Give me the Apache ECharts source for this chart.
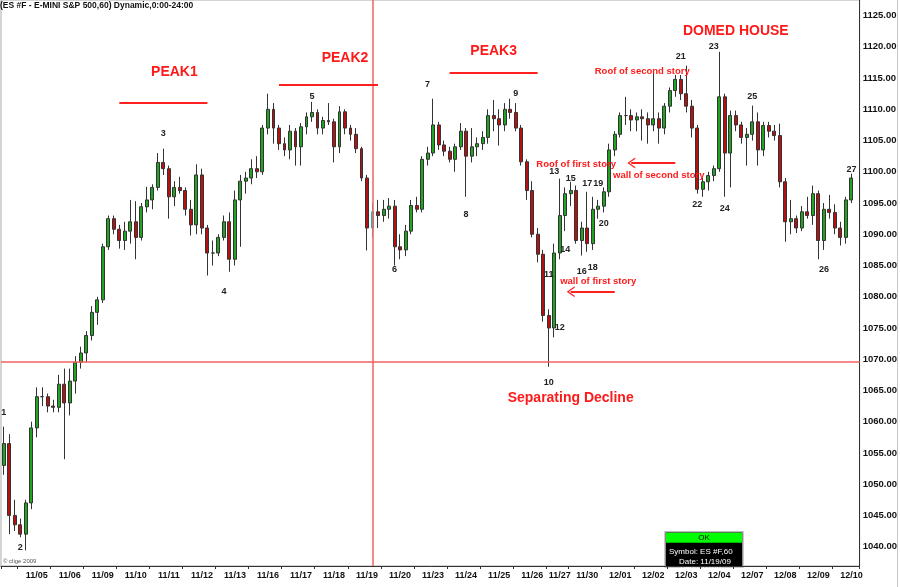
<!DOCTYPE html>
<html><head><meta charset="utf-8">
<script src="https://cdn.jsdelivr.net/npm/echarts@6/dist/echarts.min.js"></script>
<style>html,body{margin:0;padding:0;background:#fff}#c{width:900px;height:587px}</style>
</head><body><div id="c"></div>
<script>
// ---- DATA ----
const dayLabels = ['11/04','11/05','11/06','11/09','11/10','11/11','11/12','11/13','11/16','11/17','11/18','11/19','11/20','11/23','11/24','11/25','11/26','11/27','11/30','12/01','12/02','12/03','12/04','12/07','12/08','12/09','12/10'];
const barsPerDay = [3,6,6,6,6,6,6,6,6,6,6,6,6,6,6,6,6,4,6,6,6,6,6,6,6,6,5];
const hiddenDayLabels = ['11/04'];

const opens = [1053,1056.5,1045,1043.5,1042,1047,1059,1064,1064,1062.5,1062.3,1066,1063,1066.5,1069.5,1071,1073.8,1077.5,1079.5,1088,
1092.5,1090.8,1089,1090.5,1092,1089.5,1094.4,1095.5,1097.5,1101.5,1100.5,1096,1097.5,1097,1094,1091.5,1099.5,1091,1087,1087,
1089.5,1092,1086,1095.5,1098.5,1099,1100.5,1100,1107,1110,1107,1104.5,1103.5,1106.5,1104,1107.2,1108.8,1109.5,1107,1108.2,
1108,1104,1109.6,1107,1106,1103.7,1099,1091,1093.6,1093,1094,1094.5,1088,1087.5,1090.5,1094.6,1094,1102,1103,1107.5,
1104.3,1103.3,1102,1104,1106.5,1102.5,1104,1104.5,1105.5,1109,1108.5,1107.5,1110,1109.5,1107,1101.6,1097,1090,1086.8,1077,
1075,1087,1093,1096.5,1097,1089,1091,1088.5,1094,1094.5,1096.8,1103.5,1106,1109,1109,1108.3,1108.8,1108.5,1107.5,1108.5,
1107,1110.5,1113,1114.8,1112.5,1110.5,1107,1097.2,1098.4,1099.4,1100.5,1112,1103,1109,1107.5,1105.5,1106,1108,1103.5,1107.4,
1106.5,1105.8,1098.4,1092,1092.5,1091,1093.6,1093,1096.5,1089,1094,1093.5,1091,1089.5,1095.5];
const highs = [1059.2,1058,1047.5,1044.5,1047.5,1060,1065.5,1065.5,1064.5,1063.5,1067.5,1068.5,1068.5,1070.5,1072,1074.5,1078.5,1080,1088.5,1093,
1093,1091.5,1092,1095.5,1095.3,1095,1097.6,1098,1103,1103.7,1101,1098.5,1099.2,1097.5,1095.5,1101.2,1100.5,1091.5,1089,1090,
1093,1093.5,1097,1099.5,1100,1102,1102.5,1107.5,1112.5,1111,1107.5,1105.5,1107.5,1107,1107.8,1109.5,1111.2,1110,1108.8,1111,
1108.5,1110.5,1110,1107.5,1107,1104,1099.5,1095,1095.5,1095.5,1095.8,1095.5,1090,1091.5,1095.5,1096,1102.5,1104,1111.7,1108,
1105,1104,1104.5,1107.8,1107,1107,1105.5,1106.5,1110,1111.5,1110,1111,1111.7,1111,1107.5,1102,1098.5,1091,1087.5,1078,
1088.5,1098.9,1097.5,1098.4,1097.8,1092,1096.8,1096,1095.5,1097.5,1104.5,1106.5,1109.5,1112,1110,1109.5,1110,1109.5,1116,1109.5,
1111,1113.5,1115.5,1115.5,1117,1111.5,1107.5,1099,1100,1101,1119.2,1112.5,1109.8,1109.8,1108,1107,1110.6,1109.5,1108,1108,
1107.5,1107.7,1099,1095.5,1093,1094.5,1096,1097.8,1097,1095,1096.3,1094.8,1092,1096,1099.7];
const lows = [1051.5,1042,1042.5,1041.5,1039.4,1046,1057.5,1062.5,1061.5,1061.5,1061.5,1054,1061,1064.5,1068.5,1069.5,1073,1075.5,1079,1087.5,
1090,1087.7,1087.5,1088.5,1086,1089,1093.5,1094,1097,1099.5,1092.5,1094.5,1096.5,1093,1089.8,1090,1090,1083.4,1085,1086.5,
1089,1084,1085,1088,1096.5,1098,1099,1099.5,1106,1104.5,1103.5,1102.5,1102,1101,1101,1106,1108,1106,1106,1107.5,
1101.5,1103,1106,1105,1103,1098.5,1087.4,1089.5,1091,1092,1092.5,1085,1086,1086.5,1090,1093.5,1093.5,1101,1102.5,1103.5,
1102.5,1101.5,1100,1103.5,1096,1101.5,1102.5,1103.5,1104.5,1106.5,1104.2,1106.5,1108.5,1106.5,1101,1095.5,1089.5,1085.5,1076,1068.8,
1073.5,1086,1090.5,1094.5,1088.5,1086.6,1087.2,1087.5,1092.5,1093.5,1096,1102.5,1105.5,1107.5,1106.5,1106.5,1105,1104.5,1106.5,1104.5,
1106,1109.5,1112,1111.5,1109.5,1105.5,1096.5,1096,1097,1098.5,1100,1096,1097.5,1106.5,1104.5,1101,1105,1101,1102.5,1105.5,
1105,1097.5,1088.8,1090,1090.2,1090.5,1092.5,1091.5,1086,1087.5,1092.5,1090,1088.2,1088.5,1095];
const closes = [1056.5,1045,1043.5,1042,1047,1059,1064,1064,1062.5,1062.3,1066,1063,1066.5,1069.5,1071,1073.8,1077.5,1079.5,1088,1092.5,
1090.8,1089,1090.5,1092,1089.5,1094.4,1095.5,1097.5,1101.5,1100.5,1096,1097.5,1097,1094,1091.5,1099.5,1091,1087,1087,1089.5,
1092,1086,1095.5,1098.5,1099,1100.5,1100,1107,1110,1107,1104.5,1103.5,1106.5,1104,1107.2,1108.8,1109.5,1107,1108.2,1108,
1104,1109.6,1107,1106,1103.7,1099,1091,1093.6,1093,1094,1094.5,1088,1087.5,1090.5,1094.6,1094,1102,1103,1107.5,1104.3,
1103.3,1102,1104,1106.5,1102.5,1104,1104.5,1105.5,1109,1108.5,1107.5,1110,1109.5,1107,1101.6,1097,1090,1086.8,1077,1075,
1087,1093,1096.5,1097,1089,1091,1088.5,1094,1094.5,1096.8,1103.5,1106,1109,1109,1108.3,1108.8,1108.5,1107.5,1108.5,1107,
1110.5,1113,1114.8,1112.5,1110.5,1107,1097.2,1098.4,1099.4,1100.5,1112,1103,1109,1107.5,1105.5,1106,1108,1103.5,1107.4,1106.5,
1105.8,1098.4,1092,1092.5,1091,1093.6,1093,1096.5,1089,1094,1093.5,1091,1089.5,1095.5,1099];

const pivotNames  = ['1','2','3','4','5','6','7','8','9','10','11','12','13','14','15','16','17','18','19','20','21','22','23','24','25','26','27'];
const pivotBars   = [0,3,29,40,56,71,77,84,93,99,99,101,100,102,103,105,106,107,108,109,123,126,129,131,136,149,154];
const pivotPrices = [1061.4,1039.8,1106.05,1080.9,1112.1,1084.3,1114.05,1093.2,1112.6,1066.35,1083.6,1075.0,1100.0,1087.5,1099.0,1083.96,1098.2,1084.6,1098.2,1091.8,1118.5,1094.7,1120.0,1094.2,1112.1,1084.3,1100.3];

const titleTexts = ['PEAK1','PEAK2','PEAK3','DOMED HOUSE','Separating Decline'];
const titleBars  = [31,62,89,133,103];
const titlePrices= [1116.0,1118.2,1119.3,1122.5,1063.8];

const noteTexts  = ['Roof of second story','Roof of first story','wall of second story','wall of first story'];
const noteBars   = [116,104,119,108];
const notePrices = [1116.1,1101.25,1099.5,1082.4];

const peakLineFrom  = [21,50,81];
const peakLineTo    = [37,68,97];
const peakLinePrice = [1111.0,1113.9,1115.8];

const arrowFrom  = [122,111];
const arrowTo    = [114,103];
const arrowPrice = [1101.4,1080.8];

const crossBar = 67;
const crossPrice = 1069.6;

// ---- BUILD ----
const categories = [], labelIdx = new Set(), tickIdx = new Set();
let k = 0;
dayLabels.forEach((d, di) => {
  const n = barsPerDay[di];
  tickIdx.add(k);
  if (!hiddenDayLabels.includes(d)) labelIdx.add(k + Math.round(n / 2));
  for (let j = 0; j < n; j++) categories.push(d + '#' + j);
  k += n;
});

const candleData = opens.map((o, i) => {
  const v = [o, closes[i], lows[i], highs[i]];
  if (i === crossBar) return {value: v, itemStyle: {color: '#22e0f0', color0: '#22e0f0', borderColor: '#3aa', borderColor0: '#3aa'}};
  return v;
});

const FONT = 'Liberation Sans, Arial, sans-serif';
const markPoints = [];
pivotNames.forEach((n, i) => markPoints.push({
  name: n, coord: [pivotBars[i], pivotPrices[i]],
  label: {show: true, position: 'inside', formatter: '{b}', fontSize: 9, fontWeight: 'bold', color: '#222', fontFamily: FONT}
}));
titleTexts.forEach((t, i) => markPoints.push({
  name: t, coord: [titleBars[i], titlePrices[i]],
  label: {show: true, position: 'inside', formatter: '{b}', fontSize: 14, fontWeight: 'bold', color: '#ff1a1a', fontFamily: FONT}
}));
noteTexts.forEach((t, i) => markPoints.push({
  name: t, coord: [noteBars[i], notePrices[i]],
  label: {show: true, position: 'inside', formatter: '{b}', fontSize: 9.5, fontWeight: 'bold', color: '#ff1a1a', fontFamily: FONT}
}));

const chevron = 'path://M0,10 L5,0 L10,10 L8.6,10 L5,2.6 L1.4,10 Z';
const markLines = [];
markLines.push({xAxis: crossBar, lineStyle: {color: '#f46060', width: 1.5, type: 'solid'}, symbol: 'none'});
markLines.push({yAxis: crossPrice, lineStyle: {color: '#f46060', width: 1.5, type: 'solid'}, symbol: 'none'});
peakLineFrom.forEach((f, i) => markLines.push([
  {coord: [f, peakLinePrice[i]], lineStyle: {color: '#ff2020', width: 2, type: 'solid'}, symbol: 'none'},
  {coord: [peakLineTo[i], peakLinePrice[i]], symbol: 'none'}
]));
arrowFrom.forEach((f, i) => markLines.push([
  {coord: [f, arrowPrice[i]], lineStyle: {color: '#ff2020', width: 2, type: 'solid'}, symbol: 'none'},
  {coord: [arrowTo[i], arrowPrice[i]], symbol: chevron, symbolSize: [11, 8]}
]));
const lastClose = closes[closes.length - 1];
markLines.push({yAxis: lastClose, symbol: 'none', lineStyle: {opacity: 0},
  label: {show: true, position: 'end', distance: 2, formatter: p => Number(p.value).toFixed(2),
    backgroundColor: '#00ee00', color: '#ffffff', fontSize: 9.5, fontWeight: 'bold', padding: [2, 2, 1, 2], fontFamily: FONT}});

const chart = echarts.init(document.getElementById('c'), null, {renderer: 'canvas'});
chart.setOption({
  animation: false,
  backgroundColor: '#ffffff',
  title: {text: '(ES #F - E-MINI S&P 500,60) Dynamic,0:00-24:00', left: 0, top: 1, padding: 0,
    textStyle: {fontSize: 8.5, fontWeight: 'bold', color: '#111', fontFamily: FONT}},
  grid: {left: 1, right: 38, top: 0, bottom: 21, show: true, borderColor: '#aaaaaa', borderWidth: 1},
  xAxis: {
    type: 'category', data: categories, boundaryGap: true,
    axisLine: {lineStyle: {color: '#333', width: 1}},
    axisTick: {show: true, length: 3, interval: (i) => tickIdx.has(i), lineStyle: {color: '#333'}},
    axisLabel: {interval: (i) => labelIdx.has(i), formatter: v => v.split('#')[0], fontSize: 9, fontWeight: 'bold', color: '#111', margin: 5, fontFamily: FONT},
    splitLine: {show: false}
  },
  yAxis: {
    type: 'value', position: 'right', min: 1036.9, max: 1127.5, splitNumber: 18, scale: true,
    axisLine: {show: true, lineStyle: {color: '#333', width: 1}},
    axisTick: {show: false},
    axisLabel: {showMinLabel: false, showMaxLabel: false, formatter: v => v.toFixed(2), fontSize: 9.5, fontWeight: 'bold', color: '#111', margin: 3, fontFamily: FONT},
    splitLine: {show: false}
  },
  series: [{
    type: 'candlestick', data: candleData, barWidth: '62%',
    itemStyle: {color: '#1fa51f', color0: '#b81010', borderColor: '#333333', borderColor0: '#333333', borderWidth: 1},
    markPoint: {symbol: 'rect', symbolSize: 1, itemStyle: {color: 'rgba(0,0,0,0)'}, data: markPoints, silent: true},
    markLine: {silent: true, symbol: 'none', label: {show: false}, data: markLines}
  }],
  graphic: [
    {type: 'line', shape: {x1: 897.5, y1: 0, x2: 897.5, y2: 587}, style: {stroke: '#c8c8c8', lineWidth: 1}},
    {type: 'text', left: 3, top: 558, style: {text: '\u00a9 clige 2009', fontSize: 6, fill: '#555', fontFamily: FONT}},
    {type: 'group', left: 664, top: 531, z: 100, children: [
      {type: 'rect', shape: {x: 0, y: 0, width: 78, height: 36}, style: {fill: '#000', stroke: '#bbb', lineWidth: 1.5}},
      {type: 'rect', shape: {x: 1, y: 1, width: 76, height: 10}, style: {fill: '#00ff00'}},
      {type: 'text', x: 39, y: 6, style: {text: 'OK', fontSize: 8, fill: '#000', align: 'center', verticalAlign: 'middle', fontFamily: FONT}},
      {type: 'text', x: 4, y: 16, style: {text: 'Symbol: ES #F,60', fontSize: 8, fill: '#fff', fontFamily: FONT}},
      {type: 'text', x: 14, y: 26, style: {text: 'Date: 11/19/09', fontSize: 8, fill: '#fff', fontFamily: FONT}},
      {type: 'text', x: 14, y: 33, style: {text: 'Time: 10:00', fontSize: 8, fill: '#fff', fontFamily: FONT}},
      {type: 'rect', shape: {x: -1, y: 36, width: 80, height: 5}, style: {fill: '#fff'}}
    ]}
  ]
});
</script>
</body></html>
